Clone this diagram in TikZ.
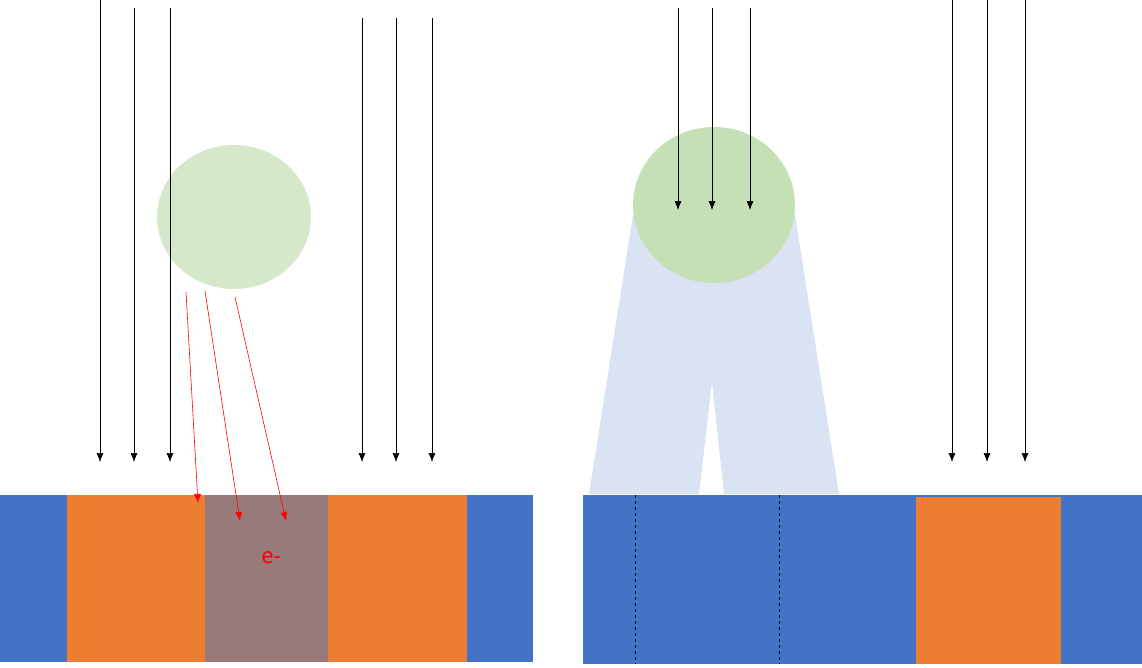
\documentclass[tikz,border=0pt]{standalone}
\usepackage{fontspec}
\setmainfont{Open Sans}
\usetikzlibrary{arrows.meta}
\definecolor{cblue}{HTML}{4472C4}
\definecolor{corange}{HTML}{ED7D31}
\definecolor{cbrown}{HTML}{997A7A}
\definecolor{lgreen}{HTML}{D5E8CA}
\definecolor{cgreen}{HTML}{C5E0B4}
\definecolor{cshadow}{HTML}{DAE3F3}
\begin{document}
\begin{tikzpicture}[x=1pt,y=-1pt,
  ray/.style={-{Latex[length=9pt,width=7pt]},black,line width=0.6pt},
  eray/.style={-{Latex[length=9pt,width=7pt]},red,line width=0.6pt}]
\useasboundingbox (0,0) rectangle (1142,667);
\fill[cblue] (0,495) rectangle (533,662);
\fill[corange] (67,495) rectangle (205,662);
\fill[cbrown] (205,495) rectangle (328,662);
\fill[corange] (328,495) rectangle (467,662);
\node[text=red,font=\fontsize{22}{24}\selectfont] (e) at (271,558) {e-};
\fill[cblue] (583,495) rectangle (1142,664);
\fill[corange] (916,497) rectangle (1061,664);
\draw[dashed,line width=0.6pt] (635,495) -- (635,664);
\draw[dashed,line width=0.6pt] (779,495) -- (779,664);
\fill[cshadow] (633,215) -- (589,494) -- (699,494) -- (712,382) -- (724,494) -- (839,494) -- (795,215) -- cycle;
\fill[lgreen] (234,217) ellipse [x radius=77, y radius=72];
\fill[cgreen] (714,205) ellipse [x radius=81, y radius=78];
\foreach \x/\t/\b [count=\i] in {100/0/462,134/8/462,170/8/462,362/18/462,396/18/462,432/18/462,678/8/210,712/8/210,750/8/210,952/0/462,987/0/462,1025/0/462}{
  \coordinate (s\i) at (\x,\t); \coordinate (t\i) at (\x,\b);
  \draw[ray] (s\i) -- (t\i);}
\coordinate (r1) at (186,292); \coordinate (q1) at (198,503);
\coordinate (r2) at (205,291); \coordinate (q2) at (240,521);
\coordinate (r3) at (235,297); \coordinate (q3) at (286,521);
\draw[eray] (r1) -- (q1);
\draw[eray] (r2) -- (q2);
\draw[eray] (r3) -- (q3);
\end{tikzpicture}
\end{document}
